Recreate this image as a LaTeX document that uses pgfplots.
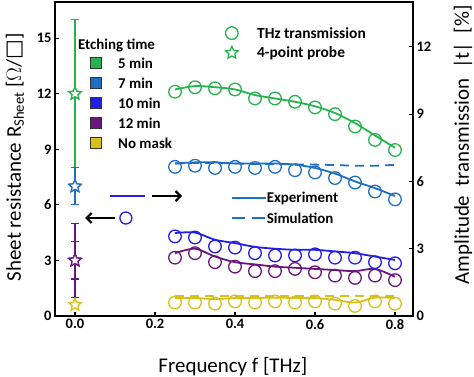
\documentclass[border=0pt]{standalone}
\usepackage{fontspec}
\setmainfont{Carlito}
\newfontfamily\dejavu{DejaVu Sans}
\usepackage{pgfplots}
\pgfplotsset{compat=1.18}
\usetikzlibrary{calc,arrows.meta,shapes.geometric}

\definecolor{cgreen}{RGB}{38,178,78}
\definecolor{cblue}{RGB}{30,110,195}
\definecolor{cbluedark}{RGB}{35,30,230}
\definecolor{cpurple}{RGB}{105,22,125}
\definecolor{cyellow}{RGB}{215,192,25}

\pgfdeclareplotmark{ostar}{%
  \pgfpathmoveto{\pgfpointpolar{90}{\pgfplotmarksize}}%
  \pgfpathlineto{\pgfpointpolar{126}{0.47\pgfplotmarksize}}%
  \pgfpathlineto{\pgfpointpolar{162}{\pgfplotmarksize}}%
  \pgfpathlineto{\pgfpointpolar{198}{0.47\pgfplotmarksize}}%
  \pgfpathlineto{\pgfpointpolar{234}{\pgfplotmarksize}}%
  \pgfpathlineto{\pgfpointpolar{270}{0.47\pgfplotmarksize}}%
  \pgfpathlineto{\pgfpointpolar{306}{\pgfplotmarksize}}%
  \pgfpathlineto{\pgfpointpolar{342}{0.47\pgfplotmarksize}}%
  \pgfpathlineto{\pgfpointpolar{18}{\pgfplotmarksize}}%
  \pgfpathlineto{\pgfpointpolar{54}{0.47\pgfplotmarksize}}%
  \pgfpathclose
  \pgfusepathqfillstroke}

\tikzset{
  sq/.style={draw=black!80, line width=0.9pt, minimum size=10.5bp, inner sep=0},
  lt/.style={anchor=west, font=\bfseries\fontsize{15}{16}\selectfont, inner sep=0},
}

\pgfplotsset{
  common/.style={
    scale only axis, width=358bp, height=314bp,
    xmin=-0.05, xmax=0.845,
    /pgf/number format/assume math mode=true,
    tick label style={font=\bfseries\fontsize{14.5}{15}\selectfont},
    label style={font=\fontsize{21}{24}\selectfont, inner sep=0pt},
    axis line style={line width=1.6pt},
    major tick length=4bp,
    tick style={black, line width=1.2pt},
    clip=false,
  },
  circ/.style={only marks, mark=o, mark size=6.3bp, line width=1.3pt, mark options={solid}},
  expline/.style={no marks, smooth, line width=1.8pt},
  simline/.style={no marks, smooth, line width=1.8pt, dash pattern=on 9bp off 6bp},
  starp/.style={only marks, mark=ostar, mark size=6.5bp, line width=1.3pt,
    mark options={fill=white, solid}},
  errp/.style={only marks, mark=ostar, mark size=6.5bp, line width=1.2pt,
    mark options={fill=white, solid},
    error bars/y dir=both, error bars/y explicit, error bars/error mark=|,
    error bars/error bar style={line width=1.2pt},
    error bars/error mark options={mark size=4bp, line width=1.2pt}},
}

\begin{document}
\begin{tikzpicture}
\begin{axis}[common,
  ymin=0, ymax=16.95,
  xtick={0,0.2,0.4,0.6,0.8}, xticklabels={0.0,0.2,0.4,0.6,0.8},
  ytick={0,3,6,9,12,15},
  xtick pos=bottom, ytick pos=left,
  xlabel={Frequency f [THz]},
  ylabel={Sheet resistance R\textsubscript{Sheet} [$\Omega$/{\dejavu □}]},
  xlabel style={at={(axis description cs:0.497,-0.162)}, anchor=center},
  ylabel style={at={(axis description cs:-0.112,0.506)}, anchor=center},
]
\coordinate (bl) at (rel axis cs:0,0);
\coordinate (tr) at (rel axis cs:1,1);

% 4-point probe values: error bars
\addplot[errp, cgreen] coordinates {(0,12) +- (0,4)};
\addplot[errp, cblue] coordinates {(0,7) +- (0,1)};
\addplot[errp, cpurple] coordinates {(0,3) +- (0,1)};
\addplot[errp, cpurple] coordinates {(0,3) +- (0,2)};
% 4-point probe values: stars on top
\addplot[starp, cgreen] coordinates {(0,12)};
\addplot[starp, cblue] coordinates {(0,7)};
\addplot[starp, cpurple] coordinates {(0,3)};
\addplot[starp, cyellow] coordinates {(0,0.6)};

% Etching time legend
\node[lt] at (axis description cs:0.064,0.863) {Etching time};
\node[sq, fill=cgreen] at (axis description cs:0.1145,0.806) {};
\node[lt] at (axis description cs:0.176,0.806) {5 min};
\node[sq, fill=cblue] at (axis description cs:0.1145,0.742) {};
\node[lt] at (axis description cs:0.176,0.742) {7 min};
\node[sq, fill=cbluedark] at (axis description cs:0.1145,0.678) {};
\node[lt] at (axis description cs:0.176,0.678) {10 min};
\node[sq, fill=cpurple] at (axis description cs:0.1145,0.615) {};
\node[lt] at (axis description cs:0.176,0.615) {12 min};
\node[sq, fill=cyellow] at (axis description cs:0.1145,0.551) {};
\node[lt] at (axis description cs:0.176,0.551) {No mask};

% THz / probe legend
\draw[cgreen, line width=1.3pt] (axis description cs:0.494,0.901) circle[radius=6.3bp];
\node[star, star points=5, star point ratio=2.1, draw=cgreen, fill=white, line width=1.3pt, minimum size=13bp, inner sep=0] at (axis description cs:0.494,0.838) {};
\node[lt, font=\bfseries\fontsize{15.5}{16}\selectfont] at (axis description cs:0.564,0.901) {THz transmission};
\node[lt, font=\bfseries\fontsize{15.5}{16}\selectfont] at (axis description cs:0.564,0.838) {4-point probe};

% Experiment / Simulation legend
\draw[cblue, line width=1.8pt] (axis description cs:0.494,0.376) -- (axis description cs:0.589,0.376);
\draw[cblue, line width=1.8pt, dash pattern=on 13bp off 7bp] (axis description cs:0.494,0.312) -- (axis description cs:0.589,0.312);
\node[lt] at (axis description cs:0.591,0.376) {Experiment};
\node[lt] at (axis description cs:0.591,0.312) {Simulation};

% axis pointers
\draw[cbluedark, line width=1.8pt] (axis description cs:0.154,0.382) -- (axis description cs:0.251,0.382);
\draw[black, line width=2.2pt, -{Straight Barb[length=5bp,width=10bp]}] (axis description cs:0.271,0.382) -- (axis description cs:0.355,0.382);
\draw[cbluedark, line width=1.3pt] (axis description cs:0.198,0.312) circle[radius=6bp];
\draw[black, line width=2.2pt, -{Straight Barb[length=5bp,width=10bp]}] (axis description cs:0.168,0.312) -- (axis description cs:0.084,0.312);
\end{axis}

\begin{axis}[common,
  ymin=0, ymax=14,
  axis x line=none, axis y line*=right,
  ytick={0,3,6,9,12},
  ylabel={Amplitude\ \ transmission\ \ |t|\ \ [\%]},
  ylabel style={at={(axis description cs:1.14,0.545)}, anchor=center},
]
% 5 min
\addplot[expline, cgreen] coordinates {(0.25,10.1)(0.30,10.25)(0.35,10.2)(0.40,10.1)(0.45,9.85)(0.50,9.7)(0.55,9.55)(0.60,9.35)(0.65,9.05)(0.70,8.6)(0.75,8.05)(0.80,7.5)};
\addplot[circ, cgreen] coordinates {(0.25,10.0)(0.30,10.2)(0.35,10.15)(0.40,10.1)(0.45,9.7)(0.50,9.7)(0.55,9.55)(0.60,9.3)(0.65,9.0)(0.70,8.45)(0.75,7.85)(0.80,7.4)};
% 7 min
\addplot[simline, cblue] coordinates {(0.25,6.8)(0.30,6.82)(0.35,6.82)(0.40,6.8)(0.45,6.78)(0.50,6.77)(0.55,6.76)(0.60,6.75)(0.65,6.73)(0.70,6.7)(0.75,6.7)(0.80,6.74)};
\addplot[expline, cblue] coordinates {(0.25,6.8)(0.30,6.85)(0.35,6.85)(0.40,6.8)(0.45,6.8)(0.50,6.8)(0.55,6.75)(0.60,6.6)(0.65,6.35)(0.70,6.0)(0.75,5.7)(0.80,5.35)};
\addplot[circ, cblue] coordinates {(0.25,6.65)(0.30,6.7)(0.35,6.6)(0.40,6.65)(0.45,6.6)(0.50,6.65)(0.55,6.5)(0.60,6.4)(0.65,6.15)(0.70,5.95)(0.75,5.55)(0.80,5.2)};
% 10 min
\addplot[expline, cbluedark] coordinates {(0.25,3.7)(0.30,3.72)(0.35,3.4)(0.40,3.25)(0.45,3.08)(0.50,3.0)(0.55,2.95)(0.60,2.95)(0.65,2.88)(0.70,2.8)(0.75,2.65)(0.80,2.5)};
\addplot[circ, cbluedark] coordinates {(0.25,3.55)(0.30,3.5)(0.35,3.1)(0.40,3.05)(0.45,2.8)(0.50,2.7)(0.55,2.7)(0.60,2.75)(0.65,2.6)(0.70,2.6)(0.75,2.4)(0.80,2.35)};
% 12 min
\addplot[expline, cpurple] coordinates {(0.25,2.8)(0.30,3.0)(0.35,2.65)(0.40,2.4)(0.45,2.3)(0.50,2.2)(0.55,2.15)(0.60,2.1)(0.65,2.05)(0.70,2.0)(0.75,2.1)(0.80,1.75)};
\addplot[circ, cpurple] coordinates {(0.25,2.6)(0.30,2.8)(0.35,2.4)(0.40,2.2)(0.45,2.0)(0.50,2.0)(0.55,2.1)(0.60,1.95)(0.65,1.8)(0.70,1.7)(0.75,1.8)(0.80,1.6)};
% no mask
\addplot[simline, cyellow] coordinates {(0.25,0.9)(0.30,0.9)(0.35,0.9)(0.40,0.9)(0.45,0.9)(0.50,0.9)(0.55,0.9)(0.60,0.9)(0.65,0.9)(0.70,0.9)(0.75,0.9)(0.80,0.9)};
\addplot[expline, cyellow] coordinates {(0.25,0.8)(0.30,0.8)(0.35,0.75)(0.40,0.8)(0.45,0.8)(0.50,0.82)(0.55,0.8)(0.60,0.8)(0.65,0.72)(0.70,0.6)(0.75,0.82)(0.80,0.8)};
\addplot[circ, cyellow] coordinates {(0.25,0.6)(0.30,0.6)(0.35,0.55)(0.40,0.65)(0.45,0.6)(0.50,0.65)(0.55,0.6)(0.60,0.65)(0.65,0.55)(0.70,0.45)(0.75,0.65)(0.80,0.55)};
\end{axis}
\pgfresetboundingbox
\path ($(bl)+(-55bp,-61bp)$) rectangle ($(tr)+(61bp,2bp)$);
\end{tikzpicture}
\end{document}
